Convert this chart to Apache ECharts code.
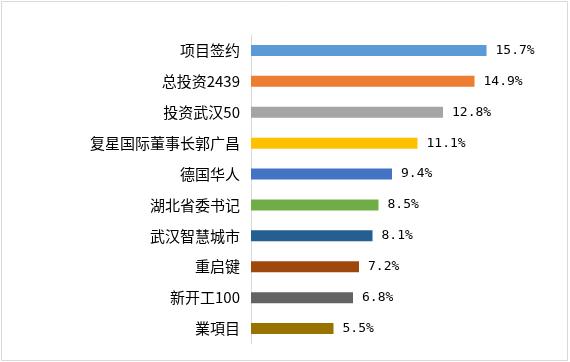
<!DOCTYPE html>
<html>
<head>
<meta charset="utf-8">
<script src="https://cdn.jsdelivr.net/npm/echarts@6/dist/echarts.min.js"></script>
<style>
  html, body { margin: 0; padding: 0; background: #fff; }
  #main { width: 570px; height: 362px; }
</style>
</head>
<body>
<div id="main"></div>
<script>
// top to bottom order as shown
const categories = ["项目签约", "总投资2439", "投资武汉50", "复星国际董事长郭广昌", "德国华人",
  "湖北省委书记", "武汉智慧城市", "重启键", "新开工100", "業項目"];
const values = [15.7, 14.9, 12.8, 11.1, 9.4, 8.5, 8.1, 7.2, 6.8, 5.5];
const colors = ["#5B9BD5", "#ED7D31", "#A5A5A5", "#FFC000", "#4472C4",
  "#70AD47", "#255E91", "#9E480E", "#636363", "#997300"];

const myChart = echarts.init(document.getElementById("main"));

const seriesData = values.map((v, i) => {
  return { value: v, itemStyle: { color: colors[i] } };
});

myChart.setOption({
  animation: false,
  graphic: [
    {
      type: "rect",
      shape: { x: 1.5, y: 1.5, width: 566, height: 359 },
      style: { fill: "none", stroke: "#D9D9D9", lineWidth: 1 },
    },
  ],
  grid: {
    left: 251,
    top: 35,
    width: 300,
    height: 309,
  },
  xAxis: {
    type: "value",
    min: 0,
    max: 20,
    show: false,
  },
  yAxis: {
    type: "category",
    inverse: true,
    data: categories,
    axisLine: { show: true, lineStyle: { color: "#D9D9D9", width: 1 } },
    axisTick: { show: false },
    axisLabel: {
      margin: 11,
      color: "#000",
      fontSize: 15,
      fontFamily: "Noto Sans CJK SC",
    },
  },
  series: [
    {
      type: "bar",
      data: seriesData,
      barWidth: 11,
      label: {
        show: true,
        position: "right",
        distance: 9,
        color: "#000",
        fontSize: 13,
        fontFamily: "DejaVu Sans Mono",
        formatter: (p) => p.value.toFixed(1) + "%",
      },
    },
  ],
});
</script>
</body>
</html>
